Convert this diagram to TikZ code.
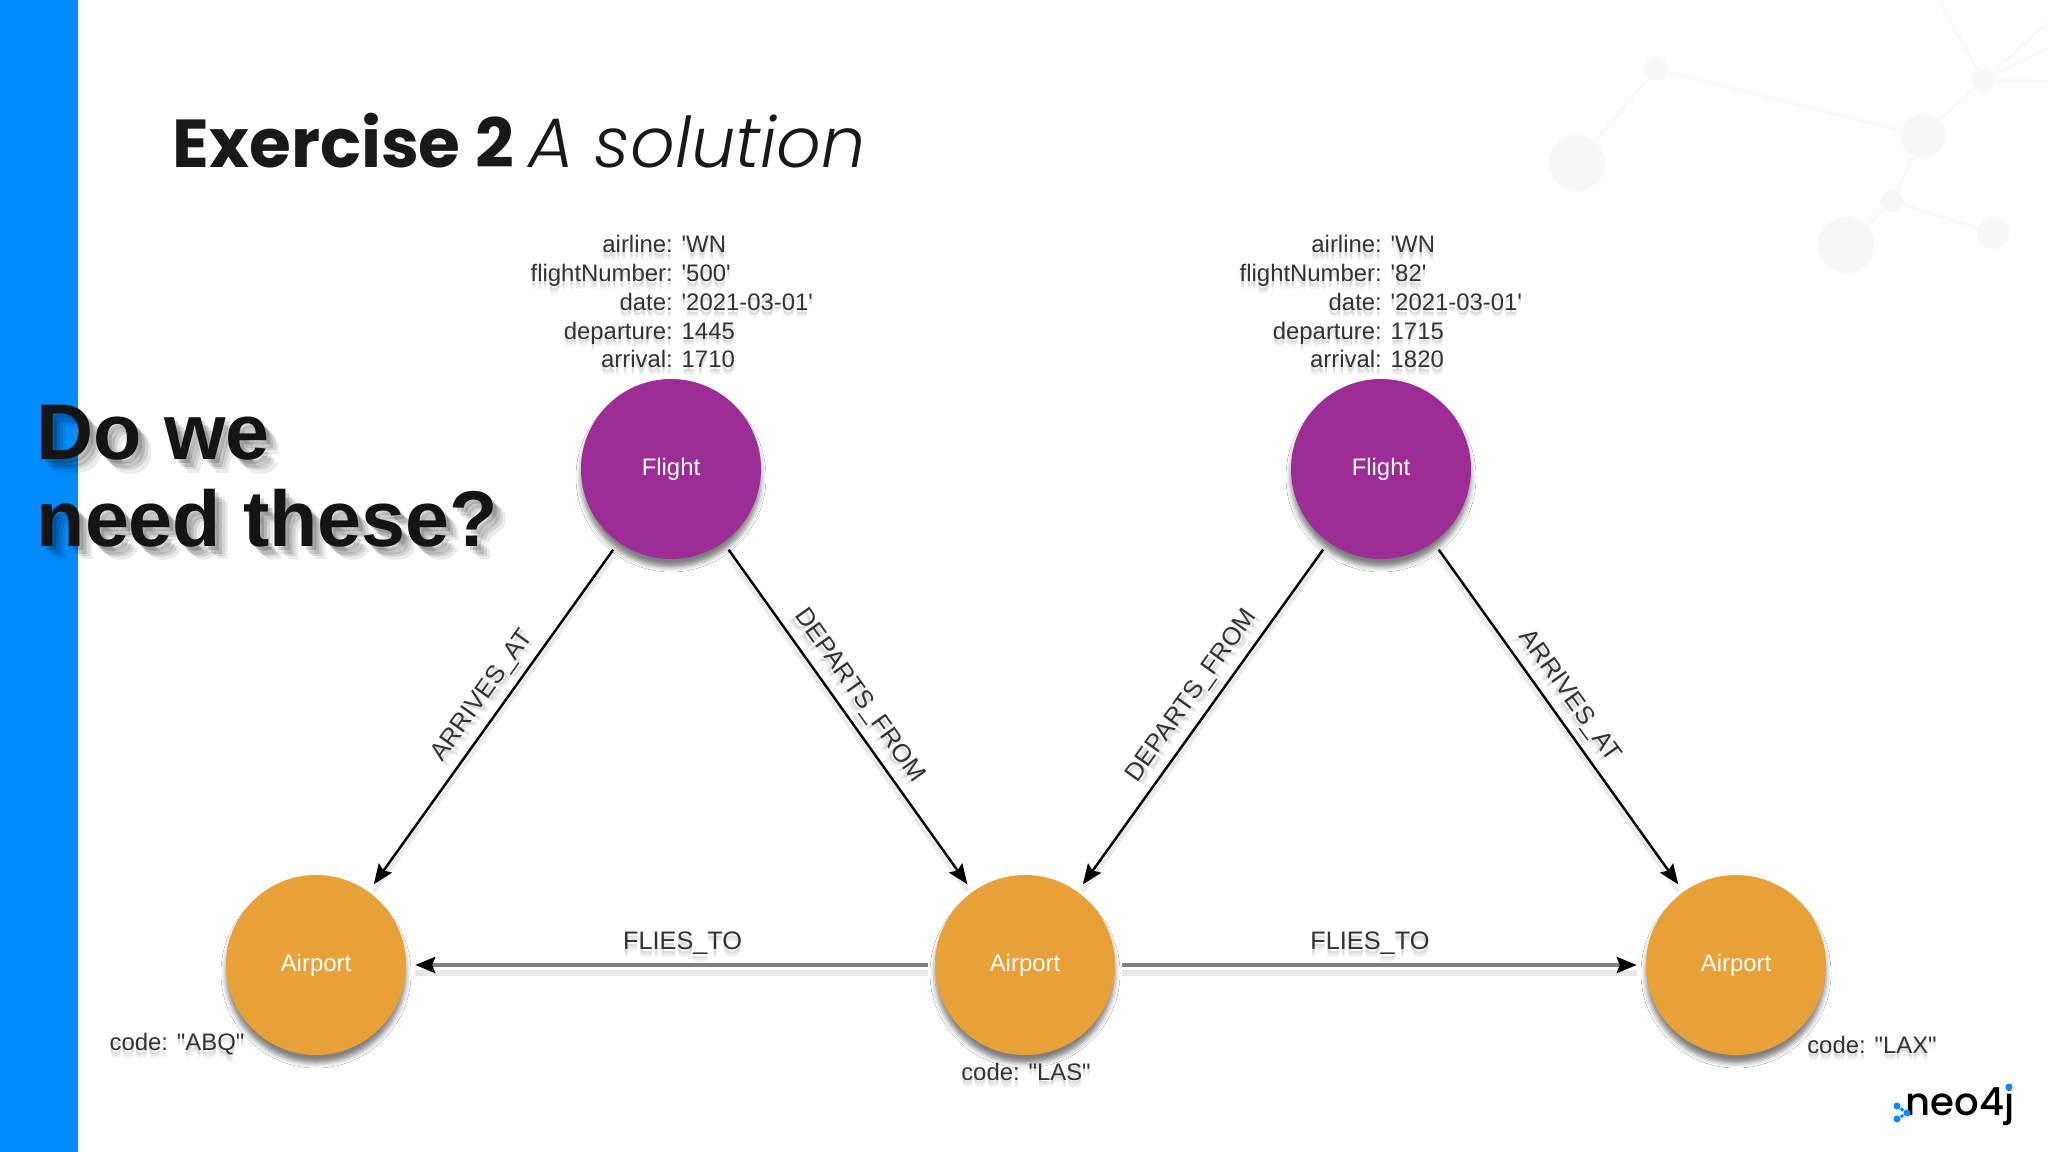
\documentclass[tikz,border=0pt]{standalone}
\usepackage{fontspec}
\usepackage{tikz}
\usetikzlibrary{arrows.meta,shadows.blur}
\setmainfont{Liberation Sans}
\newfontfamily\labelfont{Liberation Sans}
\newfontfamily\headfont{Poppins}[UprightFont=*-Bold,ItalicFont=*-LightItalic]
\newfontfamily\logofont{Poppins}[UprightFont=*-Medium]
\definecolor{barblue}{HTML}{018BFF}
\definecolor{flightpurple}{HTML}{9C2C96}
\definecolor{airportorange}{HTML}{E8A139}
\definecolor{inkgray}{HTML}{333333}
\definecolor{bggray}{HTML}{F8F8F8}
\newcommand{\shtext}[1]{\leavevmode\rlap{\smash{\raisebox{-2.1pt}{\color{black!5}#1}}}\rlap{\smash{\raisebox{-1.6pt}{\color{black!9}#1}}}\rlap{\smash{\raisebox{-1.1pt}{\color{black!14}#1}}}#1}
\tikzset{
    graphnode/.style={circle, minimum size=1.8cm, inner sep=0pt, text=white, font=\fontsize{6.8}{8}\selectfont\labelfont,
        blur shadow={shadow xshift=0cm, shadow yshift=-.08cm, shadow blur radius=.05cm, shadow opacity=50}},
    flightnode/.style={graphnode, fill=flightpurple},
    airportnode/.style={graphnode, fill=airportorange},
    proplabel/.style={text=inkgray, inner sep=0pt, font=\fontsize{6.8}{8.17}\selectfont\labelfont},
    edgelabel/.style={text=inkgray, inner sep=0pt, font=\fontsize{7.2}{8}\selectfont\labelfont},
    relline/.style={black, line width=.7pt, shorten <=.085cm, shorten >=.085cm, -{Stealth[length=.2cm,width=.16cm,inset=.03cm]},
        preaction={draw=black!8, line width=1.2pt, -, transform canvas={yshift=-.07cm}}},
    fliesline/.style={draw=black!50, line width=1pt, shorten <=.06cm, shorten >=.085cm, -{Stealth[black,length=.2cm,width=.16cm,inset=.03cm]},
        preaction={draw=black!9, line width=1.8pt, -, transform canvas={yshift=-.08cm}}},
    bigtext/.style={anchor=base west, inner sep=0pt, font=\fontsize{22.5}{26}\selectfont\bfseries},
    bgdot/.style={circle, fill=bggray, inner sep=0pt},
    bgline/.style={draw=bggray, line width=.6pt},
    logodot/.style={circle, fill=barblue, inner sep=0pt, minimum size=.07cm},
}
\begin{document}
\begin{tikzpicture}
    \useasboundingbox (0, 0) rectangle (20.48, -11.52);
    \fill[white] (0, 0) rectangle (20.48, -11.52);

    \node[bgdot, minimum size=.56cm] (bgA) at (15.77, -1.63) {};
    \node[bgdot, minimum size=.24cm] (bgB) at (16.56, -.69) {};
    \node[bgdot, minimum size=.44cm] (bgC) at (19.23, -1.36) {};
    \node[bgdot, minimum size=.22cm] (bgD) at (19.83, -.80) {};
    \node[bgdot, minimum size=.22cm] (bgE) at (18.92, -2.01) {};
    \node[bgdot, minimum size=.56cm] (bgF) at (18.46, -2.45) {};
    \node[bgdot, minimum size=.32cm] (bgG) at (19.93, -2.33) {};
    \coordinate (bgTop) at (19.39, 0);
    \coordinate (bgRightA) at (20.48, -.23);
    \coordinate (bgRightB) at (20.48, -.48);
    \coordinate (bgRightC) at (20.48, -.81);
    \draw[bgline] (bgA) -- (bgB);
    \draw[bgline] (bgB) -- (bgC);
    \draw[bgline] (bgC) -- (bgD);
    \draw[bgline] (bgC) -- (bgE);
    \draw[bgline] (bgE) -- (bgF);
    \draw[bgline] (bgE) -- (bgG);
    \draw[bgline] (bgD) -- (bgTop);
    \draw[bgline] (bgD) -- (bgRightA);
    \draw[bgline] (bgD) -- (bgRightB);
    \draw[bgline] (bgD) -- (bgRightC);

    \fill[barblue] (0, 0) rectangle (.78, -11.52);

    \node[anchor=base west, inner sep=0pt, text=black!90, font=\fontsize{19.3}{23}\headfont] (title) at (1.72, -1.68) {Exercise 2 {\fontsize{19.9}{23}\selectfont\textit{A solution}}};

    \foreach \o/\c in {.13/08, .10/10, .07/13, .04/16} {
        \node[bigtext, text=black, text opacity=.\c] (shadowOne\c) at (.36+\o, -4.60-\o) {Do we};
        \node[bigtext, text=black, text opacity=.\c] (shadowTwo\c) at (.36+\o, -5.47-\o) {need these?};
    }
    \node[bigtext, text=black!92] (askOne) at (.36, -4.60) {Do we};
    \node[bigtext, text=black!92] (askTwo) at (.36, -5.47) {need these?};

    \node[flightnode] (flightA) at (6.71, -4.69) {Flight};
    \node[flightnode] (flightB) at (13.81, -4.69) {Flight};
    \node[airportnode] (airportA) at (3.16, -9.65) {Airport};
    \node[airportnode] (airportB) at (10.25, -9.65) {Airport};
    \node[airportnode] (airportC) at (17.36, -9.65) {Airport};

    \node[proplabel, anchor=west] (propsA) at (5.30, -3.046) {\begin{tabular}{@{}r@{ }l@{}}
        \shtext{airline:} & \shtext{'WN} \\
        \shtext{flightNumber:} & \shtext{'500'} \\
        \shtext{date:} & \shtext{'2021-03-01'} \\
        \shtext{departure:} & \shtext{1445} \\
        \shtext{arrival:} & \shtext{1710}
    \end{tabular}};
    \node[proplabel, anchor=west] (propsB) at (12.39, -3.046) {\begin{tabular}{@{}r@{ }l@{}}
        \shtext{airline:} & \shtext{'WN} \\
        \shtext{flightNumber:} & \shtext{'82'} \\
        \shtext{date:} & \shtext{'2021-03-01'} \\
        \shtext{departure:} & \shtext{1715} \\
        \shtext{arrival:} & \shtext{1820}
    \end{tabular}};

    \node[proplabel] (codeA) at (1.77, -10.445) {\shtext{code: "ABQ"}};
    \node[proplabel] (codeB) at (10.26, -10.715) {\shtext{code: "LAS"}};
    \node[proplabel] (codeC) at (18.72, -10.445) {\shtext{code: "LAX"}};

    \draw[relline] (flightA) -- node[edgelabel, sloped, above=.085cm, pos=.475] {\shtext{ARRIVES\_AT}} (airportA);
    \draw[relline] (flightA) -- node[edgelabel, sloped, above=.085cm, pos=.475] {\shtext{DEPARTS\_FROM}} (airportB);
    \draw[relline] (flightB) -- node[edgelabel, sloped, above=.085cm, pos=.475] {\shtext{DEPARTS\_FROM}} (airportB);
    \draw[relline] (flightB) -- node[edgelabel, sloped, above=.085cm, pos=.475] {\shtext{ARRIVES\_AT}} (airportC);
    \draw[fliesline] (airportB) -- node[edgelabel, above=.085cm, pos=.477] {\shtext{FLIES\_TO}} (airportA);
    \draw[fliesline] (airportB) -- node[edgelabel, above=.085cm, pos=.48] {\shtext{FLIES\_TO}} (airportC);

    \node[anchor=base west, inner sep=0pt, text=black, font=\fontsize{11}{13}\logofont] (logo) at (19.05, -11.15) {neo4j};
    \node[logodot] (logoDotJ) at (20.09, -10.87) {};
    \node[logodot] (logoDotA) at (18.97, -11.06) {};
    \node[logodot] (logoDotB) at (19.07, -11.13) {};
    \node[logodot] (logoDotC) at (18.97, -11.19) {};
    \draw[barblue, line width=.8pt] (logoDotA) -- (logoDotB);
    \draw[barblue, line width=.8pt] (logoDotC) -- (logoDotB);
\end{tikzpicture}
\end{document}
